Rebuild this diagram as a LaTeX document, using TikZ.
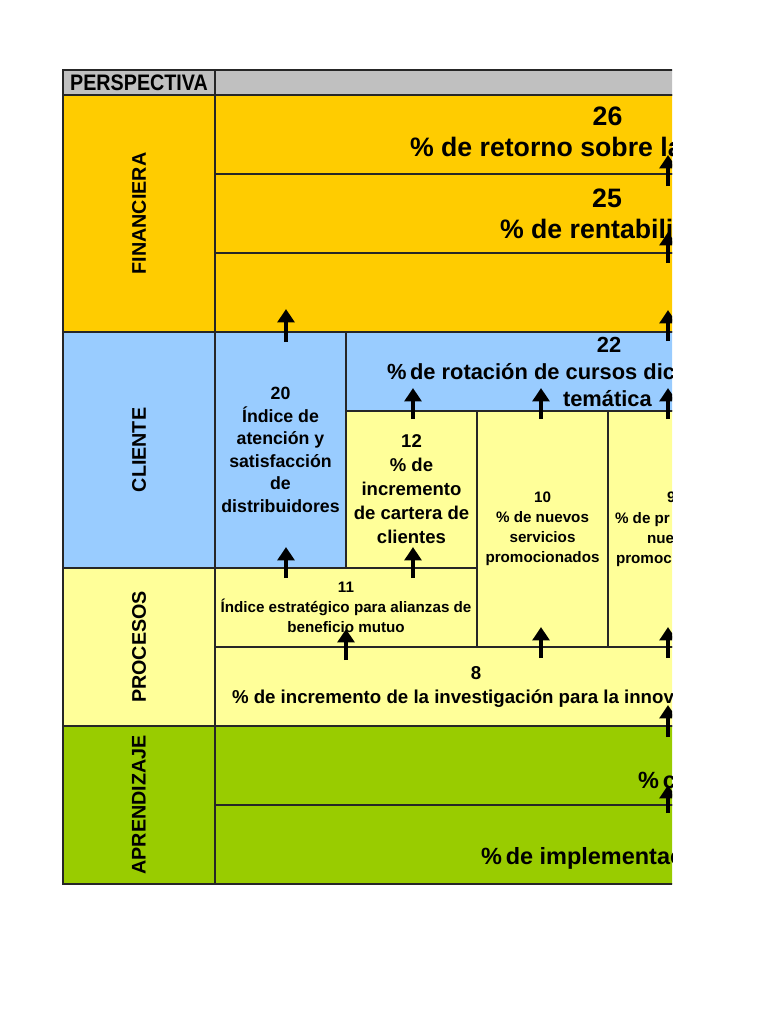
\documentclass[tikz,border=0pt]{standalone}
\usepackage{fontspec}
\setmainfont{Liberation Sans}
\usetikzlibrary{arrows.meta}

\definecolor{oro}{HTML}{FFCC00}
\definecolor{celeste}{HTML}{99CCFF}
\definecolor{crema}{HTML}{FFFF99}
\definecolor{verde}{HTML}{99CC00}
\definecolor{gris}{HTML}{C0C0C0}

\tikzset{
  cell/.style={draw=black!85,line width=1.1pt,inner sep=0pt,outer sep=0pt,align=center},
  txt/.style={inner sep=0pt,outer sep=0pt},
  hdr/.style={font=\fontsize{16.8pt}{20pt}\selectfont\bfseries},
  side/.style={txt,font=\fontsize{14.8pt}{17pt}\selectfont\bfseries},
  fbig/.style={txt,font=\fontsize{20pt}{24pt}\selectfont\bfseries},
  fmid/.style={txt,font=\fontsize{16.4pt}{20pt}\selectfont\bfseries},
  fcel/.style={font=\fontsize{13.3pt}{16.9pt}\selectfont\bfseries},
  fcelb/.style={font=\fontsize{13.9pt}{18pt}\selectfont\bfseries},
  fsmall/.style={font=\fontsize{11.4pt}{15pt}\selectfont\bfseries},
  fsm/.style={txt,fsmall},
  focho/.style={txt,font=\fontsize{14pt}{17pt}\selectfont\bfseries},
  fapr/.style={txt,font=\fontsize{17.6pt}{20pt}\selectfont\bfseries},
  upar/.style={line width=3.6pt,-{Triangle[width=12.5pt,length=10pt]}}
}

% celda: nombre, opciones, x1, y1, x2, y2, texto
\newcommand{\celda}[7]{\node[cell,#2,minimum width={(#5-#3)*0.75pt},minimum height={(#6-#4)*0.75pt}] (#1) at ({(#3+#5)/2},{(#4+#6)/2}) {#7};}

\begin{document}
\begin{tikzpicture}[x=0.75pt,y=-0.75pt]
\useasboundingbox (0,0) rectangle (768,1024);
\begin{scope}
\clip (0,0) rectangle (672,1024);
% cabecera
\celda{hdL}{fill=gris,hdr}{63}{70}{215}{95}{\scalebox{0.88}[1]{PERSPECTIVA}}
\celda{hdR}{fill=gris}{215}{70}{740}{95}{}
% financiera
\celda{fin}{fill=oro}{63}{95}{215}{332}{}
\celda{c26}{fill=oro}{215}{95}{740}{174}{}
\celda{c25}{fill=oro}{215}{174}{740}{253}{}
\celda{c24}{fill=oro}{215}{253}{740}{332}{}
% cliente
\celda{cli}{fill=celeste}{63}{332}{215}{568}{}
\celda{c20}{fill=celeste,fcel}{215}{332}{346}{568}{20\\Índice de\\atención y\\satisfacción\\de\\distribuidores}
\celda{c22}{fill=celeste}{346}{332}{740}{411}{}
\celda{c12}{fill=crema,fcelb}{346}{411}{477}{568}{12\\\% de\\incremento\\de cartera de\\clientes}
\celda{c10}{fill=crema,fsmall}{477}{411}{608}{647}{10\\\% de nuevos\\servicios\\promocionados}
\celda{c9}{fill=crema}{608}{411}{739}{647}{}
% procesos
\celda{pro}{fill=crema}{63}{568}{215}{726}{}
\celda{c11}{fill=crema,fsmall}{215}{568}{477}{647}{11\\Índice estratégico para alianzas de\\beneficio mutuo}
\celda{c8}{fill=crema}{215}{647}{740}{726}{}
% aprendizaje
\celda{apr}{fill=verde}{63}{726}{215}{884}{}
\celda{ap1}{fill=verde}{215}{726}{740}{805}{}
\celda{ap2}{fill=verde}{215}{805}{740}{884}{}

\node[side,rotate=90] (tfin) at (fin) {FINANCIERA};
\node[side,rotate=90] (tcli) at (cli) {CLIENTE};
\node[side,rotate=90] (tpro) at (pro) {PROCESOS};
\node[side,rotate=90] (tapr) at (apr) {APRENDIZAJE};

\node[fbig,anchor=base] (n26) at (607.5,125) {26};
\node[fbig,anchor=base west] (t26) at (410,156) {\% de retorno sobre la};
\node[fbig,anchor=base] (n25) at (607,207) {25};
\node[fbig,anchor=base west] (t25) at (500,238) {\% de rentabili};
\node[fmid,anchor=base] (n22) at (609,352) {22};
\node[fmid,anchor=base west] (t22) at (387,379) {\%\,de rotación de cursos dic};
\node[fmid,anchor=base west] (t22b) at (563,406) {temática};
\node[fsm,anchor=base west] (n9) at (667,502) {9};
\node[fsm,anchor=base west] (t9a) at (615,523) {\% de pr};
\node[fsm,anchor=base west] (t9b) at (647,543) {nue};
\node[fsm,anchor=base west] (t9c) at (616,563) {promoc};
\node[focho,anchor=base] (n8) at (476,679) {8};
\node[focho,anchor=base west] (t8) at (232,703) {\% de incremento de la investigación para la innov};
\node[fapr,anchor=base west] (ta1) at (638,788) {\%\,c};
\node[fapr,anchor=base west] (ta2) at (481,864) {\%\,de implementac};

% flechas
\foreach \n/\x/\ya/\yb in {1/286/342/309, 2/668/186/155, 3/668/263/232, 4/668/341/310,
    5/413/419/388, 6/541/419/388, 7/668/419/388, 8/286/578/547, 9/413/578/547,
    10/346/660/629, 11/541/658/627, 12/668/658/627, 13/668/737/705, 14/668/813/785} {
  \coordinate (b\n) at (\x,\ya);
  \coordinate (p\n) at (\x,\yb);
  \draw[upar] (b\n) -- (p\n);
}
\end{scope}
\end{tikzpicture}
\end{document}
